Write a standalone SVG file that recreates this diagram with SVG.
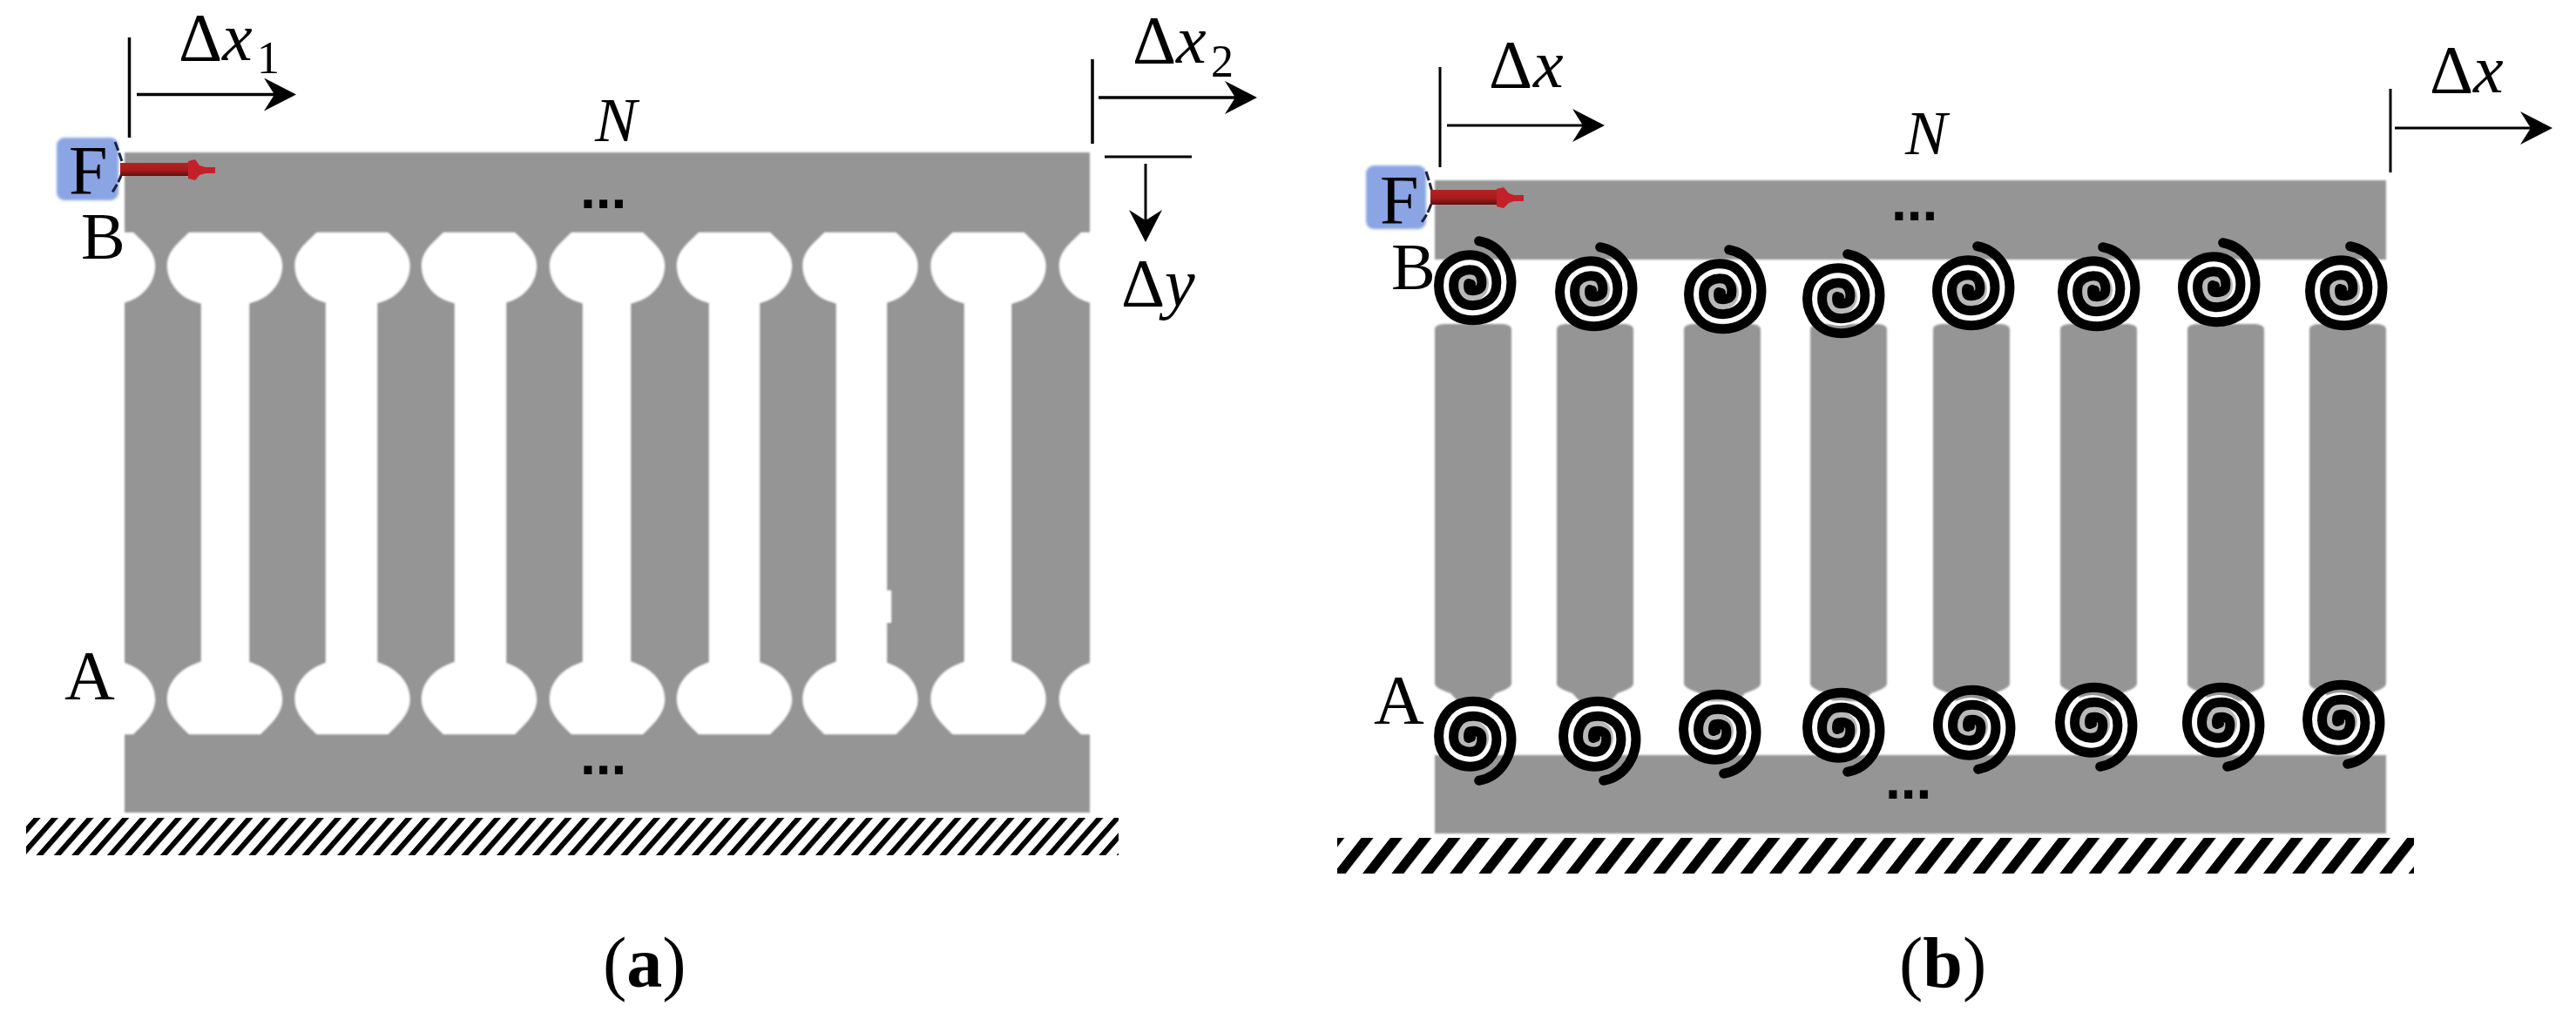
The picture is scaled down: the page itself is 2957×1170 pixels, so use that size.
<svg xmlns="http://www.w3.org/2000/svg" width="2957" height="1170" viewBox="0 0 2957 1170">
<style>
.g{fill:#959595}
.w{fill:#fff}
.t{font-family:"Liberation Serif","Times New Roman",serif;fill:#000}
.lab{font-size:80px}
.nb{font-size:76px}
.m{font-size:78px}
.n{font-size:72px}
.i{font-style:italic}
.s{font-size:52px}
.d{font-family:"Liberation Sans",Arial,sans-serif;font-weight:700;font-size:64px;fill:#000}
.cap{font-size:82px}
.b{font-weight:700}
.ln{stroke:#000;stroke-width:3.5;fill:none}
.thin{stroke-width:3}
.ar{marker-end:url(#head)}
.box{fill:#8aa4e4}
.dash{fill:none;stroke:#1c2340;stroke-width:3;stroke-dasharray:10 3}
.rh{fill:#c4202a}
</style>
<defs>
<filter id="soft" x="-2%" y="-2%" width="104%" height="104%"><feGaussianBlur stdDeviation="1.1"/></filter>
<filter id="softer" x="-10%" y="-10%" width="120%" height="120%"><feGaussianBlur stdDeviation="1.6"/></filter>
<linearGradient id="red" x1="0" y1="0" x2="0" y2="1"><stop offset="0" stop-color="#b52222"/><stop offset=".55" stop-color="#a81c1c"/><stop offset="1" stop-color="#5e0f0f"/></linearGradient>
<marker id="head" markerUnits="userSpaceOnUse" markerWidth="38" markerHeight="38" refX="12" refY="19" orient="auto"><path d="M0 0L37 19L0 38L12 19Z" fill="#000"/></marker>
<pattern id="hatchA" patternUnits="userSpaceOnUse" width="20.33" height="43" patternTransform="translate(59 939) skewX(-41.4)"><rect width="8" height="43" fill="#000"/></pattern>
<pattern id="hatchB" patternUnits="userSpaceOnUse" width="33.35" height="41" patternTransform="translate(1596 962) skewX(-38)"><rect width="14" height="41" fill="#000"/></pattern>
<path id="bone" class="w" d="M-41 267L41 267C52 278 66 288 66 305C66 322 55 338 38 345L26 349V759L38 764C55 772 66 786 66 803C66 820 52 832 41 843L-41 843C-52 832-66 820-66 803C-66 786-55 772-38 764L-26 759V349L-38 345C-55 338-66 322-66 305C-66 288-52 278-41 267Z"/>
<path id="col" class="g" d="M0 378Q0 373 10 372L78 372Q88 373 88 378L88 785Q88 790 70 796L62 805L26 805L18 796Q0 790 0 785Z"/>
<g id="spiral">
<circle r="33" fill="#fff"/><circle r="20" fill="#b8b8b8"/>
<path transform="rotate(10)" fill="none" stroke="#000" stroke-width="11" stroke-linecap="round" d="M0-50A45.75 50 0 0 1 45.75 0A45.75 41.5 0 0 1 0 41.5A37.25 41.5 0 0 1-37.25 0A37.25 33 0 0 1 0-33A28.75 33 0 0 1 28.75 0A28.75 24.5 0 0 1 0 24.5A20.25 24.5 0 0 1-20.25 0A20.25 16 0 0 1 0-16A11.75 16 0 0 1 11.75 0A11.75 7.5 0 0 1 0 7.5A3.25 7.5 0 0 1-3.25 0"/>
<circle r="5" fill="#000"/>
</g>
</defs>
<rect width="2957" height="1170" fill="#fff"/>

<g id="panel-a">
<g id="flexure-a" filter="url(#soft)">
<rect class="g" x="143" y="175" width="1108" height="758"/>
<use href="#bone" x="112"/><use href="#bone" x="258"/><use href="#bone" x="404.5"/><use href="#bone" x="550"/><use href="#bone" x="697"/><use href="#bone" x="843"/><use href="#bone" x="987.5"/><use href="#bone" x="1134.5"/><use href="#bone" x="1282"/>
<rect class="w" x="231" y="345" width="55" height="420"/>
<rect class="w" x="374" y="345" width="59" height="420"/>
<rect class="w" x="522" y="345" width="59" height="420"/>
<rect class="w" x="669" y="345" width="55" height="420"/>
<rect class="w" x="814" y="345" width="58" height="420"/>
<rect class="w" x="960" y="345" width="58" height="420"/>
<rect class="w" x="1107" y="345" width="54" height="420"/>
<rect class="w" x="1015" y="678" width="8" height="37"/>
</g>
<rect id="ground-a" x="30" y="939" width="1254" height="43" fill="url(#hatchA)"/>
<g id="force-a">
<rect class="box" x="65" y="158" width="71" height="72" rx="9" filter="url(#softer)"/>
<path class="dash" d="M132 163Q138 178 142 192Q138 208 128 222"/>
<path d="M138 187H216V202H138Z" fill="url(#red)"/>
<path class="rh" d="M216 185L224 183L229 190L236 192H247V199H236L229 201L224 207L216 205Z"/>
<text class="t lab" x="79" y="223">F</text>
</g>
<text class="t nb" x="93" y="297">B</text>
<text class="t lab" x="74" y="803">A</text>
<text class="t n i" x="683" y="162">N</text>
<text class="d" x="666" y="239">...</text>
<text class="d" x="666" y="889">...</text>
<text class="t m" x="205" y="69">Δ<tspan class="i" x="255">x</tspan><tspan class="s" x="295" y="84">1</tspan></text>
<text class="t m" x="1300" y="72">Δ<tspan class="i" x="1350">x</tspan><tspan class="s" x="1390" y="88">2</tspan></text>
<text class="t m" x="1287" y="351">Δ<tspan class="i" x="1337">y</tspan></text>
<text class="t cap" x="692" y="1133">(<tspan class="b">a</tspan>)</text>
</g>

<g id="panel-b">
<g id="flexure-b" filter="url(#soft)">
<rect class="g" x="1647" y="207" width="1092" height="91"/>
<rect class="g" x="1647" y="867" width="1092" height="90"/>
<use href="#col" x="1647"/><use href="#col" x="1787"/><use href="#col" x="1933"/><use href="#col" x="2078"/><use href="#col" x="2219"/><use href="#col" x="2365"/><use href="#col" x="2511"/><use href="#col" x="2651"/>
</g>
<g id="springs-top">
<use href="#spiral" transform="translate(1689 326)"/><use href="#spiral" transform="translate(1828 333)"/><use href="#spiral" transform="translate(1976 336)"/><use href="#spiral" transform="translate(2112 341)"/><use href="#spiral" transform="translate(2261 332)"/><use href="#spiral" transform="translate(2405 333)"/><use href="#spiral" transform="translate(2543 328)"/><use href="#spiral" transform="translate(2689 332)"/>
</g>
<g id="springs-bottom">
<use href="#spiral" transform="translate(1689 847) scale(1 -1)"/><use href="#spiral" transform="translate(1832 847) scale(1 -1)"/><use href="#spiral" transform="translate(1970 839) scale(1 -1)"/><use href="#spiral" transform="translate(2112 837) scale(1 -1)"/><use href="#spiral" transform="translate(2262 834) scale(1 -1)"/><use href="#spiral" transform="translate(2402 831) scale(1 -1)"/><use href="#spiral" transform="translate(2548 831) scale(1 -1)"/><use href="#spiral" transform="translate(2686 828) scale(1 -1)"/>
</g>
<rect id="ground-b" x="1535" y="962" width="1236" height="41" fill="url(#hatchB)"/>
<g id="force-b">
<rect class="box" x="1568" y="190" width="69" height="73" rx="9" filter="url(#softer)"/>
<path class="dash" d="M1637 197Q1642 212 1645 225Q1642 242 1632 255"/>
<path d="M1642 218H1718V235H1642Z" fill="url(#red)"/>
<path class="rh" d="M1718 217L1726 215L1732 222L1738 224H1749V231H1738L1732 233L1726 239L1718 237Z"/>
<text class="t lab" x="1584" y="257">F</text>
</g>
<text class="t nb" x="1597" y="332">B</text>
<text class="t lab" x="1577" y="831">A</text>
<text class="t n i" x="2187" y="177">N</text>
<text class="d" x="2171" y="253">...</text>
<text class="d" x="2164" y="917">...</text>
<text class="t m" x="1709" y="100">Δ<tspan class="i" x="1760">x</tspan></text>
<text class="t m" x="2789" y="106">Δ<tspan class="i" x="2839">x</tspan></text>
<text class="t cap" x="2180" y="1133">(<tspan class="b">b</tspan>)</text>
</g>

<g id="connectors">
<line class="ln" x1="148.500" y1="43" x2="148.500" y2="158"/>
<line class="ln ar" x1="157" y1="108.500" x2="315" y2="108.500"/>
<line class="ln" x1="1254" y1="68" x2="1254" y2="165"/>
<line class="ln ar" x1="1261" y1="112" x2="1418" y2="112"/>
<line class="ln thin" x1="1268" y1="180" x2="1368" y2="180"/>
<line class="ln thin ar" x1="1315" y1="188" x2="1315" y2="253"/>
<line class="ln thin" x1="1653" y1="77" x2="1653" y2="192"/>
<line class="ln thin ar" x1="1661" y1="144" x2="1817" y2="144"/>
<line class="ln thin" x1="2744" y1="102" x2="2744" y2="198"/>
<line class="ln thin ar" x1="2749" y1="147" x2="2905" y2="147"/>
</g>
</svg>
